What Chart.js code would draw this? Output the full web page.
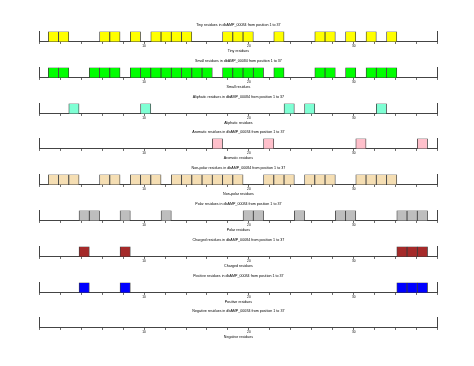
<!DOCTYPE html>
<html>
<head>
<meta charset="utf-8">
<script src="https://cdn.jsdelivr.net/npm/chart.js@4/dist/chart.umd.min.js"></script>
<style>
  body { margin: 0; background: #fff; }
  .panel { position: absolute; left: 0; width: 474px; height: 32px; }
</style>
</head>
<body>
<div id="wrap"></div>
<script>
const seqName = 'dbAMP_00084';
const seqLength = 37;
const labelledTicks = [10, 20, 30];

// residue positions flagged in each property plot
const tinyResidues = [1, 2, 6, 7, 9, 11, 12, 13, 14, 18, 19, 20, 23, 27, 28, 30, 32, 34];
const smallResidues = [1, 2, 5, 6, 7, 9, 10, 11, 12, 13, 14, 15, 16, 18, 19, 20, 21, 23, 27, 28, 30, 32, 33, 34];
const aliphaticResidues = [3, 10, 24, 26, 33];
const aromaticResidues = [17, 22, 31, 37];
const nonPolarResidues = [1, 2, 3, 6, 7, 9, 10, 11, 13, 14, 15, 16, 17, 18, 19, 22, 23, 24, 26, 27, 28, 31, 32, 33, 34];
const polarResidues = [4, 5, 8, 12, 20, 21, 25, 29, 30, 35, 36, 37];
const chargedResidues = [4, 8, 35, 36, 37];
const positiveResidues = [4, 8, 35, 36, 37];
const negativeResidues = [];

const panelNames = ['Tiny', 'Small', 'Aliphatic', 'Aromatic', 'Non-polar', 'Polar', 'Charged', 'Positive', 'Negative'];
const panelResidues = [tinyResidues, smallResidues, aliphaticResidues, aromaticResidues, nonPolarResidues,
  polarResidues, chargedResidues, positiveResidues, negativeResidues];
const panelColors = ['#ffff00', '#00ff00', '#7fffd4', '#ffc0cb', '#f5deb3', '#bebebe', '#a52a2a', '#0000ff', '#ffffff'];

const font = 'Liberation Sans, Arial, sans-serif';
const lineColor = '#444';

panelNames.forEach(function(name, i) {
    const div = document.createElement('div');
    div.className = 'panel';
    div.style.top = Math.round(21 + i * 35.8) + 'px';
    const canvas = document.createElement('canvas');
    canvas.width = 474;
    canvas.height = 32;
    div.appendChild(canvas);
    document.getElementById('wrap').appendChild(div);

    new Chart(canvas, {
        type: 'bar',
        data: {
            labels: ['row'],
            datasets: [{
                data: panelResidues[i].map(r => ({ x: [r, r + 1], y: 'row' })),
                backgroundColor: panelColors[i],
                borderColor: '#3a3a3a',
                borderWidth: 0.8,
                borderSkipped: false,
                categoryPercentage: 1,
                barPercentage: 1,
                xAxisID: 'xr'
            }]
        },
        options: {
            indexAxis: 'y',
            responsive: false,
            animation: false,
            events: [],
            layout: { padding: { left: 39.3, right: 36.5, top: 0, bottom: 0.24 } },
            plugins: {
                legend: { display: false },
                tooltip: { enabled: false },
                title: {
                    display: true,
                    text: name + ' residues in ' + seqName + ' from position 1 to ' + seqLength,
                    color: '#000',
                    font: { family: font, size: 3.65, weight: 'normal', lineHeight: 1.2 },
                    padding: { top: 1.54, bottom: 4.54 }
                }
            },
            scales: {
                // residue scale used by the bars
                xr: { type: 'linear', axis: 'x', display: false, min: 0.122, max: 38.97 },
                // visible position axis
                x: {
                    type: 'linear',
                    position: 'bottom',
                    min: 0,
                    max: 38,
                    ticks: {
                        stepSize: 2,
                        autoSkip: false,
                        maxRotation: 0,
                        padding: 0.68,
                        color: '#000',
                        font: { family: font, size: 3.2, lineHeight: 1.2 },
                        callback: v => labelledTicks.includes(v) ? String(v) : ''
                    },
                    grid: { drawOnChartArea: false, tickLength: 2, color: lineColor, lineWidth: 0.8 },
                    border: { color: lineColor, width: 1 },
                    title: {
                        display: true,
                        text: name + ' residues',
                        color: '#000',
                        font: { family: font, size: 3.65, lineHeight: 1.2 },
                        padding: { top: -0.76, bottom: 0 }
                    }
                },
                y: {
                    ticks: { display: false },
                    grid: { drawOnChartArea: false, drawTicks: false },
                    border: { display: true, color: lineColor, width: 1 }
                },
                y2: {
                    type: 'linear',
                    position: 'right',
                    min: 0,
                    max: 1,
                    ticks: { display: false },
                    grid: { drawOnChartArea: false, drawTicks: false },
                    border: { display: true, color: lineColor, width: 1 }
                }
            }
        }
    });
});
</script>
</body>
</html>
